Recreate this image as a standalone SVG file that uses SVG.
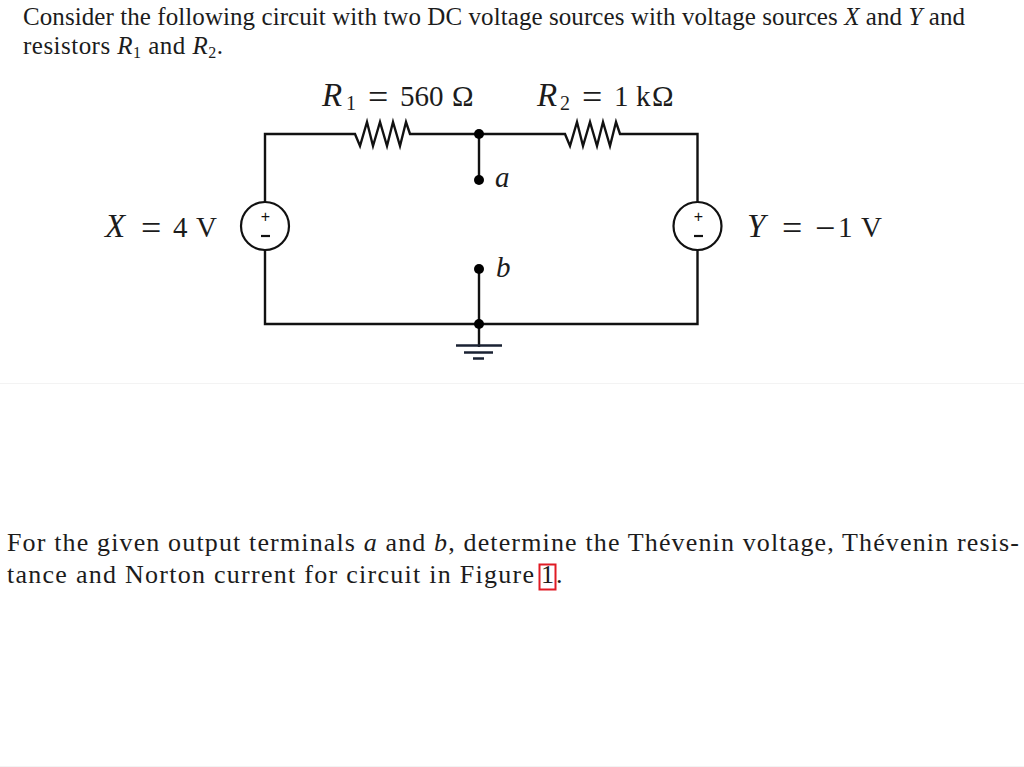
<svg xmlns="http://www.w3.org/2000/svg" width="1024" height="767" viewBox="0 0 1024 767">
<style>
text{font-family:"Liberation Serif","Times New Roman",serif;fill:#1c1c1c}
.b{font-size:25px}
.c{font-size:26px}
.m{font-size:29px}
.e{font-size:36px}
.i{font-style:italic;font-size:33px}
.u{font-size:20px}
.w{fill:none;stroke:#111;stroke-width:2.4}
.d{fill:#000}
.s{fill:#fff;stroke:#111;stroke-width:2.2}
.p{font-family:"Liberation Sans",sans-serif;font-size:16px;text-anchor:middle;fill:#111}
</style>
<rect width="1024" height="767" fill="#fff"/>
<path d="M0 383.500H1024M0 766.500H1024" stroke="#f3f3f3" fill="none"/>
<g id="text-top">
<text class="b" x="23" y="25" textLength="942">Consider the following circuit with two DC voltage sources with voltage sources <tspan font-style="italic">X</tspan> and <tspan font-style="italic">Y</tspan> and</text>
<text class="b" x="23" y="54" textLength="200">resistors <tspan font-style="italic">R</tspan><tspan font-size="16" dy="4">1</tspan><tspan dy="-4"> and </tspan><tspan font-style="italic">R</tspan><tspan font-size="16" dy="4">2</tspan><tspan dy="-4">.</tspan></text>
</g>
<g id="connectors">
<path class="w" d="M265 202V134H343M422 134H553M632 134H697.500V202M697.500 250V324H265V250M479 134V180M479 269V347"/>
<path class="w" d="M343 134H355L360 146L367 122L373 146L380 122L387 146L393 122L400 146L406 122L410 134H422"/>
<path class="w" d="M553 134H565L570 146L577 122L583 146L590 122L597 146L603 122L610 146L616 122L620 134H632"/>
</g>
<g id="node-top" class="d"><circle cx="479" cy="134" r="5"/></g>
<g id="node-a"><circle class="d" cx="479" cy="180" r="5"/><text class="m" font-style="italic" x="495" y="187">a</text></g>
<g id="node-b"><circle class="d" cx="479" cy="269" r="5"/><text class="m" font-style="italic" x="496" y="277">b</text></g>
<g id="node-bottom" class="d"><circle cx="479" cy="324" r="5"/></g>
<g id="ground"><path d="M456 345.500H502M464 352.500H493M473 358.500H484" fill="none" stroke="#1a2233" stroke-width="2.400"/></g>
<g id="R1"><text class="m" y="106"><tspan class="i" x="322">R</tspan><tspan class="u" x="346" dy="4">1</tspan><tspan class="e" x="368" dy="-1">=</tspan><tspan x="400" dy="-3">560</tspan><tspan x="452">Ω</tspan></text></g>
<g id="R2"><text class="m" y="106"><tspan class="i" x="537">R</tspan><tspan class="u" x="560" dy="4">2</tspan><tspan class="e" x="582" dy="-1">=</tspan><tspan x="614" dy="-3">1</tspan><tspan x="636">k</tspan><tspan x="652">Ω</tspan></text></g>
<g id="source-X"><circle class="s" cx="265" cy="226" r="24"/><text class="p" x="265.500" y="222">+</text><path d="M261 236H270" stroke="#111" stroke-width="2.200"/><text class="m" y="237"><tspan class="i" x="105">X</tspan><tspan class="e" x="141" dy="3">=</tspan><tspan x="173" dy="-3">4</tspan><tspan x="196">V</tspan></text></g>
<g id="source-Y"><circle class="s" cx="697.500" cy="226" r="24"/><text class="p" x="698.500" y="222">+</text><path d="M694 236H703" stroke="#111" stroke-width="2.200"/><text class="m" y="237"><tspan class="i" x="747">Y</tspan><tspan class="e" x="782" dy="3">=</tspan><tspan class="e" x="815">−</tspan><tspan x="838" dy="-3">1</tspan><tspan x="861">V</tspan></text></g>
<g id="text-bottom">
<text class="c" x="7" y="551" textLength="1012">For the given output terminals <tspan font-style="italic">a</tspan> and <tspan font-style="italic">b</tspan>, determine the Thévenin voltage, Thévenin resis-</text>
<text class="c" x="7" y="583" textLength="527">tance and Norton current for circuit in Figure</text>
<text class="c" x="541" y="583">1</text>
<text class="c" x="556" y="583">.</text>
<rect x="539.500" y="564.500" width="16" height="25" fill="none" stroke="#e01b24" stroke-width="2"/>
</g>
</svg>
